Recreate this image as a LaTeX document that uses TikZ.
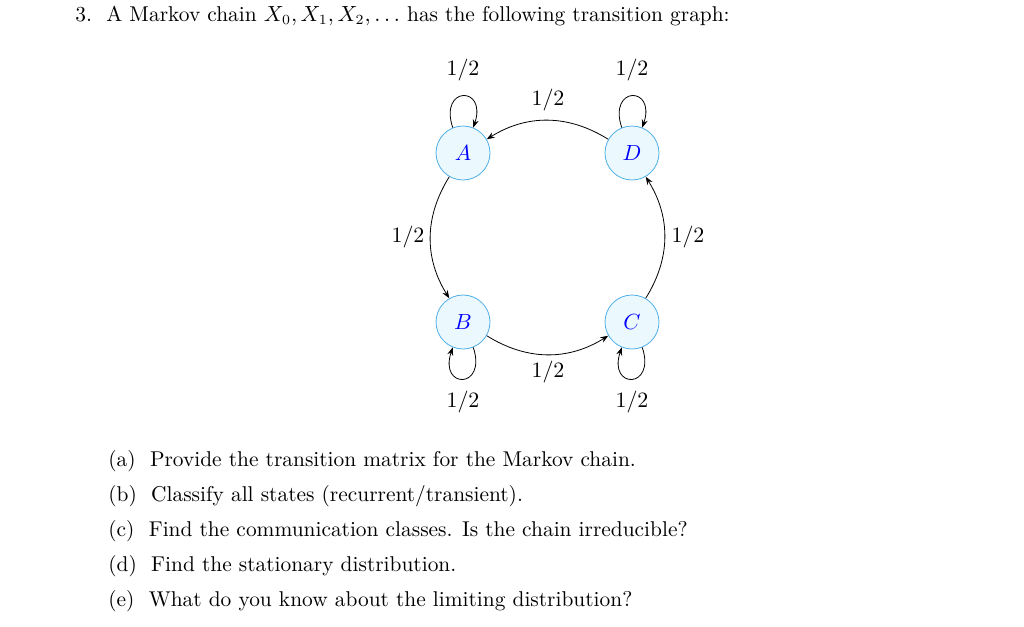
\documentclass[tikz,border=0pt]{standalone}
\usetikzlibrary{arrows.meta}
\begin{document}
\begin{tikzpicture}[x=0.5pt,y=-0.5pt,font=\fontsize{10.7}{13}\selectfont,
  st/.style={circle,draw=cyan!80!blue!70,fill=cyan!8,minimum size=27pt,inner sep=0pt,text=blue},
  ar/.style={-{Stealth[length=4pt,width=3pt]},thin},
  txt/.style={anchor=base west,inner sep=0pt}]
\useasboundingbox (0,0) rectangle (1024,627);
\node[txt] (h) at (75,21) {3.\ \ A Markov chain $X_0, X_1, X_2, \ldots$ has the following transition graph:};
\node[st] (A) at (463,153) {$A$};
\node[st] (D) at (632,153) {$D$};
\node[st] (B) at (463,322) {$B$};
\node[st] (C) at (632,322) {$C$};
\draw[ar] (A.240) to[bend right=32] (B.120);
\draw[ar] (D.150) to[bend right=32] (A.30);
\draw[ar] (B.-30) to[bend right=32] (C.210);
\draw[ar] (C.60) to[bend right=32] (D.-60);
\draw[ar] (A.112) .. controls +(-14,-42) and +(14,-42) .. (A.68);
\draw[ar] (D.112) .. controls +(-14,-42) and +(14,-42) .. (D.68);
\draw[ar] (B.-68) .. controls +(14,42) and +(-14,42) .. (B.-112);
\draw[ar] (C.-68) .. controls +(14,42) and +(-14,42) .. (C.-112);
\node (la) at (463,70) {$1/2$};
\node (ld) at (632,70) {$1/2$};
\node (lda) at (548,100) {$1/2$};
\node (lab) at (408,237) {$1/2$};
\node (lcd) at (688,237) {$1/2$};
\node (lbc) at (548,372) {$1/2$};
\node (lb) at (463,402) {$1/2$};
\node (lc) at (632,402) {$1/2$};
\node[txt] (a) at (108,466) {(a)\ \ Provide the transition matrix for the Markov chain.};
\node[txt] (b) at (108,501) {(b)\ \ Classify all states (recurrent/transient).};
\node[txt] (c) at (108,536) {(c)\ \ Find the communication classes. Is the chain irreducible?};
\node[txt] (d) at (108,571) {(d)\ \ Find the stationary distribution.};
\node[txt] (e) at (108,606) {(e)\ \ What do you know about the limiting distribution?};
\end{tikzpicture}
\end{document}
